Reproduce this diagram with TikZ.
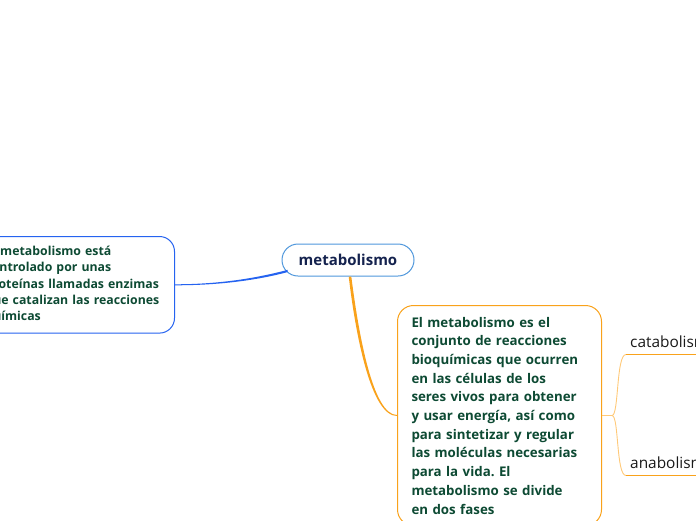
\documentclass[tikz,border=0pt]{standalone}
\usepackage{fontspec}
\setmainfont{Open Sans}
\usetikzlibrary{calc}
\definecolor{txtgreen}{HTML}{0D4A33}
\definecolor{navy}{HTML}{14224E}
\definecolor{bluebox}{HTML}{2563F0}
\definecolor{bluecen}{HTML}{4F97DC}
\definecolor{orng}{HTML}{F9A21B}
\definecolor{orngl}{HTML}{FFC978}
\newcommand{\oneline}[1]{\mbox{#1}}
\frenchspacing
\tikzset{
  every node/.style={font=\bfseries},
  cen/.style={draw=bluecen, line width=1pt, fill=white, rounded corners=16pt,
    minimum width=132pt, minimum height=32pt, inner sep=0pt, text=navy,
    font=\fontsize{15}{18}\selectfont\bfseries},
  lbox/.style={draw=bluebox, line width=1pt, fill=white, rounded corners=15pt,
    text width=176pt, align=left, inner xsep=13pt, inner ysep=9.5pt, text=txtgreen,
    font=\fontsize{12.3}{16.3}\selectfont\bfseries},
  obox/.style={draw=orng, line width=1pt, fill=white, rounded corners=16pt,
    text width=176pt, align=left, inner xsep=14pt, inner ysep=11.4pt,
    minimum height=220pt, text=txtgreen,
    font=\fontsize{13.3}{18.7}\selectfont\bfseries},
  leaf/.style={inner xsep=4pt, inner ysep=0pt, text height=11pt, text depth=7pt,
    text=black!90, font=\fontsize{15.4}{18}\selectfont},
  under/.style={draw=orng, line width=1.6pt},
  thin/.style={draw=orngl, line width=0.9pt},
}
\begin{document}
\begin{tikzpicture}[x=1pt,y=-1pt]
\useasboundingbox (0,0) rectangle (696,520);
\clip (0,0) rectangle (696,520);
% nodes
\node[cen] (c) at (348,260) {metabolismo};
\node[lbox, anchor=north west] (l) at (-28,236)
  {\oneline{El metabolismo está}\\\oneline{controlado por unas}\\\oneline{proteínas llamadas enzimas}\\\oneline{que catalizan las reacciones}\\\oneline{químicas}};
\node[obox, anchor=north west] (d) at (397,305)
  {\oneline{El metabolismo es el}\\\oneline{conjunto de reacciones}\\\oneline{bioquímicas que ocurren}\\\oneline{en las células de los}\\\oneline{seres vivos para obtener}\\\oneline{y usar energía, así como}\\\oneline{para sintetizar y regular}\\\oneline{las moléculas necesarias}\\\oneline{para la vida. El}\\\oneline{metabolismo se divide}\\\oneline{en dos fases}};
\node[leaf, anchor=south west] (ca) at (626,354.5) {catabolismo};
\node[leaf, anchor=south west] (an) at (626,475.5) {anabolismo};
% connectors (tapered)
\coordinate (cl) at ([shift={(6,11)}]c.west);
\fill[bluebox] ([yshift=0.5pt]l.east) .. controls +(45,0) and +(-30,8) .. ([yshift=1.1pt]cl)
  -- ([yshift=-1.1pt]cl) .. controls +(-30,8) and +(45,0) .. ([yshift=-0.5pt]l.east) -- cycle;
\coordinate (co) at ([xshift=2pt]c.south);
\fill[orng] ([xshift=-1.3pt]co) .. controls +(7,59) and +(-26,0) .. ([yshift=-0.5pt]d.west)
  -- ([yshift=0.5pt]d.west) .. controls +(-24,0) and +(7.5,59) .. ([xshift=1.3pt]co) -- cycle;
% branch
\draw[thin] (d.east) -- ++(10,0) coordinate (br)
  .. controls +(7,0) and +(-10,0) .. (ca.south west);
\draw[thin] (br) .. controls +(7,0) and +(-10,0) .. (an.south west);
\draw[under] (ca.south west) -- (ca.south east);
\draw[under] (an.south west) -- (an.south east);
\end{tikzpicture}
\end{document}
